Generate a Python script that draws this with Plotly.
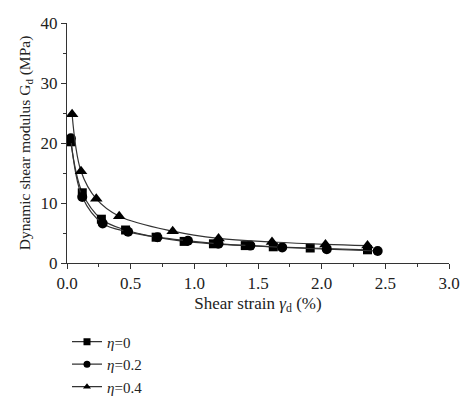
import plotly.graph_objects as go

x_eta0 = [0.03, 0.12, 0.27, 0.46, 0.70, 0.92, 1.15, 1.40, 1.62, 1.91, 2.36]
y_eta0 = [20.2, 11.7, 7.3, 5.5, 4.3, 3.6, 3.2, 2.9, 2.7, 2.5, 2.2]
x_eta2 = [0.03, 0.12, 0.28, 0.48, 0.71, 0.95, 1.19, 1.44, 1.69, 2.04, 2.44]
y_eta2 = [20.8, 11.0, 6.6, 5.2, 4.3, 3.7, 3.2, 2.9, 2.6, 2.3, 2.0]
x_eta4 = [0.04, 0.11, 0.23, 0.41, 0.83, 1.19, 1.61, 2.03, 2.36]
y_eta4 = [24.8, 15.3, 10.7, 7.8, 5.3, 4.1, 3.5, 3.1, 2.9]

names = ["<i>η</i>=0", "<i>η</i>=0.2", "<i>η</i>=0.4"]
symbols = ["square", "circle", "triangle-up"]
sizes = [9, 10, 11]

FONT = "Liberation Serif"
fig = go.Figure()
for xs, ys, nm, sym, sz in zip([x_eta0, x_eta2, x_eta4], [y_eta0, y_eta2, y_eta4], names, symbols, sizes):
    fig.add_trace(go.Scatter(
        x=xs, y=ys, name=nm, mode="lines+markers", showlegend=False,
        line=dict(color="#333333", width=1.2, shape="spline", smoothing=1.0),
        marker=dict(symbol=sym, size=sz, color="black"),
    ))
for nm, sym in zip(names, symbols):
    fig.add_trace(go.Scatter(
        x=[None], y=[None], name=nm, mode="lines+markers",
        line=dict(color="#333333", width=1.2),
        marker=dict(symbol=sym, size=7, color="black"),
    ))

fig.update_layout(
    width=474, height=416,
    margin=dict(l=67, r=25, t=23, b=143),
    paper_bgcolor="white", plot_bgcolor="white",
    font=dict(family=FONT, size=17, color="#222222"),
    showlegend=True,
    legend=dict(x=0.0, y=-0.26, xanchor="left", yanchor="top",
                font=dict(family=FONT, size=15), tracegroupgap=0,
                itemwidth=30, bgcolor="rgba(0,0,0,0)"),
    xaxis=dict(range=[0, 3], tick0=0, dtick=0.5, tickformat=".1f",
               showline=True, linecolor="#333333", linewidth=1,
               ticks="outside", ticklen=5, tickcolor="#333333",
               minor=dict(ticks="outside", ticklen=3, dtick=0.25, tickcolor="#333333"),
               showgrid=False, zeroline=False,
               title=dict(text="Shear strain <i>γ</i><sub>d</sub> (%)", standoff=4,
                          font=dict(family=FONT, size=17))),
    yaxis=dict(range=[0, 40], tick0=0, dtick=10,
               showline=True, linecolor="#333333", linewidth=1,
               ticks="outside", ticklen=5, tickcolor="#333333",
               minor=dict(ticks="outside", ticklen=3, dtick=5, tickcolor="#333333"),
               showgrid=False, zeroline=False,
               title=dict(text="Dynamic shear modulus G<sub>d</sub> (MPa)", standoff=6,
                          font=dict(family=FONT, size=15.5))),
)

fig.write_html("out.html")
